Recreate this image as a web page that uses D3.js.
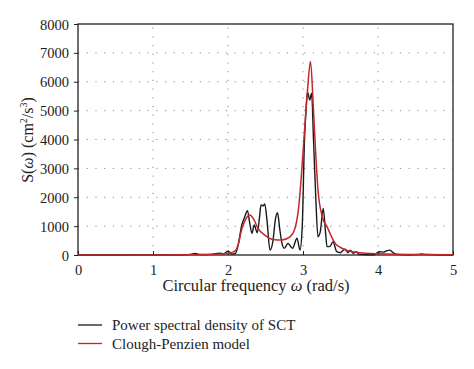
<!DOCTYPE html>
<html><head><meta charset="utf-8">
<script src="https://cdn.jsdelivr.net/npm/d3@7/dist/d3.min.js"></script>
<style>body{margin:0;background:#fff}svg{display:block}text{font-family:"Liberation Serif","DejaVu Serif",serif;fill:#222}</style>
</head><body><svg id="c" width="474" height="369"></svg>
<script>
const xTicks = [0,1,2,3,4,5];
const yTicks = [0,1000,2000,3000,4000,5000,6000,7000,8000];
const sctOmega = [0,0.5,1.0,1.4,1.5,1.56,1.62,1.7,1.8,1.89,1.94,2.0,2.05,2.1,2.14,2.18,2.22,2.26,2.29,2.32,2.35,2.39,2.42,2.44,2.47,2.49,2.52,2.56,2.6,2.63,2.66,2.69,2.72,2.75,2.8,2.86,2.92,2.96,2.99,3.02,3.04,3.06,3.09,3.115,3.14,3.17,3.2,3.23,3.27,3.3,3.32,3.36,3.4,3.45,3.5,3.53,3.56,3.6,3.63,3.67,3.71,3.75,3.85,3.95,3.98,4.03,4.07,4.12,4.16,4.2,4.25,4.4,4.55,4.58,4.62,4.8,5.0];
const sctValue = [0,0,5,10,20,50,20,15,30,60,40,140,30,60,400,1000,1300,1535,1100,750,1040,770,1300,1730,1700,1770,1200,170,500,1200,1465,900,400,230,400,230,580,170,1000,4000,5000,5650,5370,5600,4000,2000,630,800,1615,800,290,300,460,115,80,150,200,80,170,60,115,20,10,10,60,115,100,150,170,80,20,10,20,40,20,10,0];
const cpOmega = [0,1.0,1.5,1.8,1.9,2.0,2.05,2.1,2.14,2.18,2.23,2.29,2.34,2.4,2.49,2.6,2.72,2.83,2.89,2.94,2.98,3.02,3.06,3.1,3.14,3.17,3.2,3.26,3.32,3.43,3.5,3.6,3.75,4.0,4.5,5.0];
const cpValue = [0,2,8,20,35,60,90,150,400,865,1210,1385,1250,920,690,540,520,635,900,1600,2800,4300,5700,6700,5000,3500,2250,1300,980,400,260,150,80,40,15,8];
const legendLabels = ["Power spectral density of SCT","Clough-Penzien model"];
const colors = ["#1a1a1a","#c1272d"];

const svg = d3.select("#c");
const x = d3.scaleLinear().domain([0,5]).range([78,453]);
const y = d3.scaleLinear().domain([0,8000]).range([255,24]);

// grid
svg.append("g").selectAll("line").data(yTicks.slice(1,-1)).join("line")
  .attr("x1",x(0)).attr("x2",x(5)).attr("y1",d=>y(d)).attr("y2",d=>y(d))
  .attr("stroke","#8a8a8a").attr("stroke-width",1).attr("stroke-dasharray","1.2,7.5");
svg.append("g").selectAll("line").data(xTicks.slice(1,-1)).join("line")
  .attr("y1",y(0)).attr("y2",y(8000)).attr("x1",d=>x(d)).attr("x2",d=>x(d))
  .attr("stroke","#8a8a8a").attr("stroke-width",1).attr("stroke-dasharray","1.2,7.5");

// axes
const ya = svg.append("g").attr("transform",`translate(${x(0)},0)`)
  .call(d3.axisLeft(y).tickValues(yTicks).tickSize(4).tickFormat(d3.format("d")));
const xa = svg.append("g").attr("transform",`translate(0,${y(0)})`)
  .call(d3.axisBottom(x).tickValues(xTicks).tickSize(-4).tickFormat(d3.format("d")));
[ya,xa].forEach(g=>{g.select(".domain").remove();g.selectAll("line").attr("stroke","#222");
  g.selectAll("text").attr("font-size",14.5).attr("font-family","Liberation Serif").attr("fill","#222");});
ya.selectAll("text").attr("x",-9).attr("dy","0.35em");
xa.selectAll("text").attr("y",0).attr("dy",0).attr("transform","translate(0,19.5)");

// frame
svg.append("rect").attr("x",x(0)).attr("y",y(8000)).attr("width",x(5)-x(0)).attr("height",y(0)-y(8000))
  .attr("fill","none").attr("stroke","#222").attr("stroke-width",1.3);

// lines
const sct = sctOmega.map((w,i)=>[w,sctValue[i]]);
const cp = cpOmega.map((w,i)=>[w,cpValue[i]]);
const line = d3.line().x(d=>x(d[0])).y(d=>y(d[1])).curve(d3.curveMonotoneX);
svg.append("path").datum(sct).attr("d",line).attr("fill","none").attr("stroke",colors[0]).attr("stroke-width",1.4);
svg.append("path").datum(cp).attr("d",line).attr("fill","none").attr("stroke",colors[1]).attr("stroke-width",1.5);

// labels
svg.append("text").attr("x",256).attr("y",291).attr("text-anchor","middle").attr("font-size",16.5)
  .html('Circular frequency <tspan font-style="italic">ω</tspan> (rad/s)');
svg.append("text").attr("transform","translate(33,140) rotate(-90)").attr("text-anchor","middle").attr("font-size",16)
  .html('S(<tspan font-style="italic">ω</tspan>) (cm<tspan font-size="10" dy="-6">2</tspan><tspan dy="6">/s</tspan><tspan font-size="10" dy="-6">3</tspan><tspan dy="6">)</tspan>');

// legend
const lg = svg.append("g").selectAll("g").data(legendLabels).join("g")
  .attr("transform",(d,i)=>`translate(0,${325+i*18.5})`);
lg.append("line").attr("x1",78).attr("x2",102).attr("stroke",(d,i)=>colors[i]).attr("stroke-width",1.3);
lg.append("text").attr("x",112).attr("dy","0.35em").attr("font-size",15).text(d=>d);
</script></body></html>
